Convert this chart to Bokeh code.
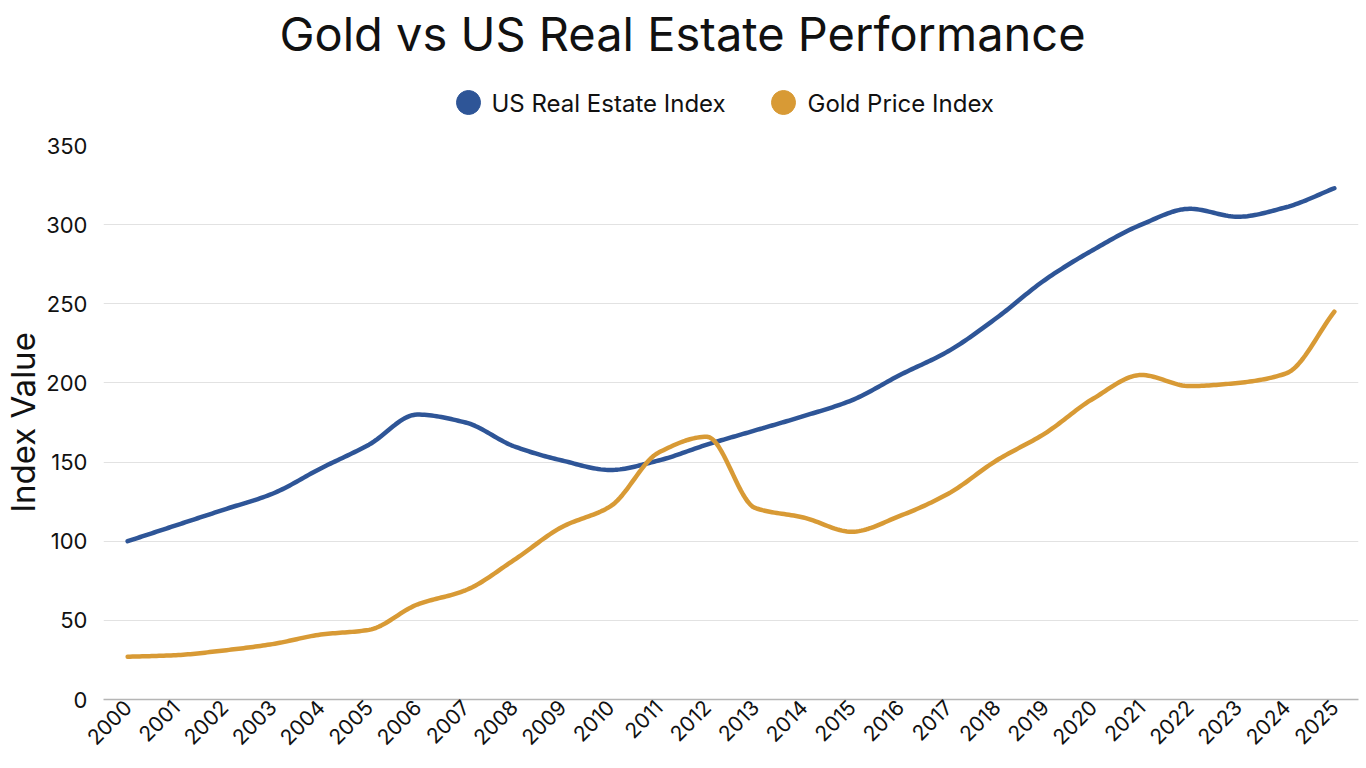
import math
import numpy as np
from bokeh.plotting import figure
from bokeh.layouts import column
from bokeh.models import Range1d, FixedTicker
from bokeh.core.properties import value
from bokeh.embed import file_html
from bokeh.resources import INLINE

# ---- data ----
years = list(range(2000, 2026))
year_labels = [str(y) for y in years]
real_estate = [100, 110, 120, 130, 146, 161, 180, 175, 160, 151, 145, 151, 161, 170,
               179, 189, 205, 220, 241, 265, 284, 300, 310, 305, 311, 323]
gold = [27, 28, 31, 35, 41, 44, 60, 69, 88, 109, 122, 156, 166, 121,
        115, 106, 116, 130, 151, 168, 190, 205, 198, 200, 206, 245]
y_ticks = [0, 50, 100, 150, 200, 250, 300, 350]
series_names = ["US Real Estate Index", "Gold Price Index"]
title_text = "Gold vs US Real Estate Performance"

BLUE = "#2E5597"
GOLD = "#D89A35"
FONT = "Inter"
TEXT = "#111111"

FRAME_L = 102          # left edge of plotting area (px)
FRAME_W = 1255
FRAME_H = 554
HEADER_H = 129


def monotone_curve(xs, ys, n=20):
    """Monotone cubic (Fritsch-Carlson) rendering of the yearly series."""
    x = np.asarray(xs, float)
    y = np.asarray(ys, float)
    h = np.diff(x)
    d = np.diff(y) / h
    m = np.zeros_like(y)
    m[0], m[-1] = d[0], d[-1]
    for i in range(1, len(y) - 1):
        if d[i - 1] * d[i] <= 0:
            m[i] = 0.0
        else:
            w1 = 2 * h[i] + h[i - 1]
            w2 = h[i] + 2 * h[i - 1]
            m[i] = (w1 + w2) / (w1 / d[i - 1] + w2 / d[i])
    out_x, out_y = [], []
    for i in range(len(x) - 1):
        t = np.linspace(0, 1, n, endpoint=False)
        h00 = 2 * t**3 - 3 * t**2 + 1
        h10 = t**3 - 2 * t**2 + t
        h01 = -2 * t**3 + 3 * t**2
        h11 = t**3 - t**2
        out_x.extend(x[i] + t * h[i])
        out_y.extend(h00 * y[i] + h10 * h[i] * m[i] + h01 * y[i + 1] + h11 * h[i] * m[i + 1])
    out_x.append(x[-1])
    out_y.append(y[-1])
    return out_x, out_y


# ---- header: title + legend, in pixel coordinates (y grows downward) ----
hdr = figure(frame_width=FRAME_W, height=HEADER_H, output_backend="svg", toolbar_location=None,
             x_range=Range1d(FRAME_L, FRAME_L + FRAME_W), y_range=Range1d(HEADER_H, 0),
             x_axis_location=None, y_axis_location=None, title_location=None,
             min_border_left=FRAME_L, min_border_right=1, min_border_top=0, min_border_bottom=0)
hdr.outline_line_color = None
hdr.xgrid.grid_line_color = None
hdr.ygrid.grid_line_color = None
hdr.border_fill_color = "white"

hdr.text(x=[681], y=[33], text=[title_text], text_align="center",
         text_baseline="alphabetic", text_font=value(FONT), text_font_size="47px",
         text_color=TEXT)

hdr.scatter(x=[467, 782], y=[102, 102], marker="circle", size=24,
            fill_color=[BLUE, GOLD], line_color=[BLUE, GOLD])
hdr.text(x=[490, 806], y=[103, 103], text=series_names, text_align="left",
         text_baseline="middle", text_font=value(FONT), text_font_size="24px",
         text_color=TEXT)

# ---- main chart ----
p = figure(frame_width=FRAME_W, frame_height=FRAME_H, output_backend="svg", toolbar_location=None,
           x_range=Range1d(years[0] - 0.5, years[-1] + 0.5),
           y_range=Range1d(0, 350), title_location=None,
           min_border_left=FRAME_L, min_border_right=1, min_border_top=16, min_border_bottom=60)

p.outline_line_color = None
p.background_fill_color = "white"
p.border_fill_color = "white"

rx, ry = monotone_curve(years, real_estate)
gx, gy = monotone_curve(years, gold)
p.line(rx, ry, line_color=BLUE, line_width=4.5, line_cap="round", line_join="round")
p.line(gx, gy, line_color=GOLD, line_width=4.5, line_cap="round", line_join="round")

p.xaxis.ticker = FixedTicker(ticks=years)
p.xaxis.major_label_overrides = {y: s for y, s in zip(years, year_labels)}
p.xaxis.major_label_orientation = math.pi / 4
p.xaxis.major_label_text_font = FONT
p.xaxis.major_label_text_font_size = "21px"
p.xaxis.major_label_text_color = TEXT
p.xaxis.major_tick_line_color = None
p.xaxis.minor_tick_line_color = None
p.xaxis.major_tick_out = 0
p.xaxis.axis_line_color = "#b5b5b5"
p.xaxis.axis_line_width = 1.5
p.xaxis.major_label_standoff = 4

p.yaxis.ticker = FixedTicker(ticks=y_ticks)
p.yaxis.major_label_text_font = FONT
p.yaxis.major_label_text_font_size = "22px"
p.yaxis.major_label_text_color = TEXT
p.yaxis.major_tick_line_color = None
p.yaxis.minor_tick_line_color = None
p.yaxis.major_tick_out = 0
p.yaxis.axis_line_color = None
p.yaxis.major_label_standoff = 16
p.yaxis.axis_label = "Index Value"
p.yaxis.axis_label_text_font = FONT
p.yaxis.axis_label_text_font_size = "33px"
p.yaxis.axis_label_text_font_style = "normal"
p.yaxis.axis_label_text_color = TEXT
p.yaxis.axis_label_standoff = 0

p.xgrid.grid_line_color = None
p.ygrid.grid_line_color = "#e2e2e2"
p.ygrid.grid_line_width = 1.2

layout = column(hdr, p, spacing=0)
open("out.html", "w").write(file_html(layout, INLINE))
